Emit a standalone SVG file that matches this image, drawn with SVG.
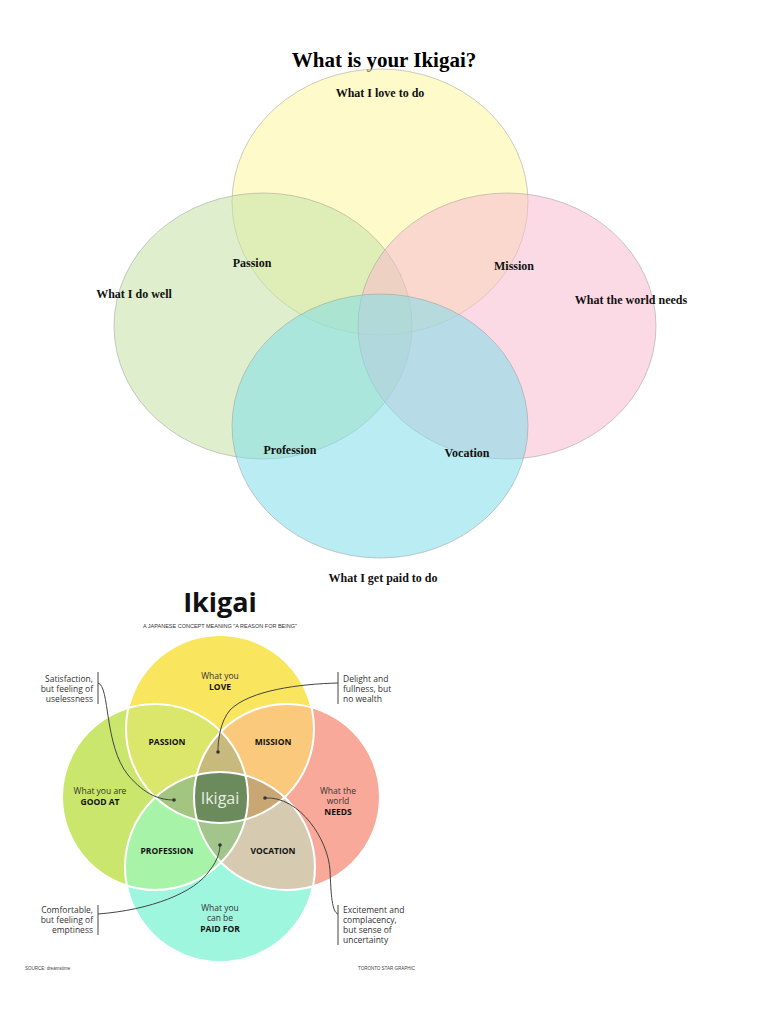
<svg xmlns="http://www.w3.org/2000/svg" width="768" height="1024" viewBox="0 0 768 1024">
<style>
.s{font-family:"Liberation Serif",serif;font-weight:bold;font-size:12px;fill:#111;text-anchor:middle}
.a{font-family:"Open Sans","Liberation Sans",sans-serif;font-size:8.5px;fill:#333;text-anchor:middle}
.b{font-family:"Open Sans","Liberation Sans",sans-serif;font-size:8.5px;font-weight:bold;fill:#111;text-anchor:middle}
.n{font-family:"Open Sans","Liberation Sans",sans-serif;font-size:8.5px;fill:#333}
.e{fill-opacity:0.55;stroke:#999;stroke-opacity:0.5;stroke-width:1}
.w{fill:none;stroke:#fff;stroke-width:2}
.c{fill:none;stroke:#444;stroke-width:1}
</style>
<defs>
<clipPath id="cT"><circle cx="220" cy="729" r="94"/></clipPath>
<clipPath id="cL"><circle cx="155" cy="797" r="93"/></clipPath>
<clipPath id="cR"><circle cx="287" cy="797" r="93"/></clipPath>
<clipPath id="cB"><circle cx="220" cy="867" r="95"/></clipPath>
</defs>
<rect width="768" height="1024" fill="#fff"/>
<text x="384" y="67" style="font-family:'Liberation Serif',serif;font-weight:bold;font-size:21px;text-anchor:middle">What is your Ikigai?</text>
<g id="top-love"><ellipse class="e" cx="380" cy="202" rx="148" ry="133" fill="#fff59d"/></g>
<g id="top-well"><ellipse class="e" cx="263" cy="326" rx="149" ry="133" fill="#c5e1a5"/></g>
<g id="top-needs"><ellipse class="e" cx="507" cy="326" rx="149" ry="133" fill="#f8bbd0"/></g>
<g id="top-paid"><ellipse class="e" cx="380" cy="426" rx="148" ry="132" fill="#80deea"/></g>
<g id="top-labels">
<text class="s" x="380" y="97">What I love to do</text>
<text class="s" x="252" y="267">Passion</text>
<text class="s" x="514" y="270">Mission</text>
<text class="s" x="134" y="298">What I do well</text>
<text class="s" x="631" y="304">What the world needs</text>
<text class="s" x="290" y="454">Profession</text>
<text class="s" x="467" y="457">Vocation</text>
<text class="s" x="383" y="582">What I get paid to do</text>
</g>
<g id="bottom">
<text x="220" y="612" style="font-family:'Open Sans','Liberation Sans',sans-serif;font-weight:bold;font-size:27px;text-anchor:middle;fill:#111">Ikigai</text>
<text x="220" y="628" style="font-family:'Liberation Sans',sans-serif;font-size:5.5px;text-anchor:middle;fill:#333">A JAPANESE CONCEPT MEANING "A REASON FOR BEING"</text>
<circle cx="220" cy="729" r="94" fill="#f9e55e"/>
<circle cx="155" cy="797" r="93" fill="#cbe66c"/>
<circle cx="287" cy="797" r="93" fill="#f9a999"/>
<circle cx="220" cy="867" r="95" fill="#9ff6df"/>
<circle cx="155" cy="797" r="93" fill="#dbe76b" clip-path="url(#cT)"/>
<circle cx="287" cy="797" r="93" fill="#fbc97b" clip-path="url(#cT)"/>
<circle cx="155" cy="797" r="93" fill="#a7f4a8" clip-path="url(#cB)"/>
<circle cx="287" cy="797" r="93" fill="#d6cbb1" clip-path="url(#cB)"/>
<g clip-path="url(#cT)"><circle cx="287" cy="797" r="93" fill="#c8b97c" clip-path="url(#cL)"/></g>
<g clip-path="url(#cB)"><circle cx="287" cy="797" r="93" fill="#a1c58a" clip-path="url(#cL)"/></g>
<g clip-path="url(#cT)"><circle cx="220" cy="867" r="95" fill="#a2c57f" clip-path="url(#cL)"/></g>
<g clip-path="url(#cT)"><circle cx="220" cy="867" r="95" fill="#c9a774" clip-path="url(#cR)"/></g>
<g clip-path="url(#cT)"><g clip-path="url(#cB)"><circle cx="287" cy="797" r="93" fill="#6b8b5d" clip-path="url(#cL)"/></g></g>
<circle class="w" cx="220" cy="729" r="94"/>
<circle class="w" cx="155" cy="797" r="93"/>
<circle class="w" cx="287" cy="797" r="93"/>
<circle class="w" cx="220" cy="867" r="95"/>
<text class="a" x="220" y="679">What you</text><text class="b" x="220" y="690">LOVE</text>
<text class="b" x="167" y="745">PASSION</text><text class="b" x="273" y="745">MISSION</text>
<text class="a" x="100" y="794">What you are</text><text class="b" x="100" y="805">GOOD AT</text>
<text class="a" x="338" y="794">What the</text><text class="a" x="338" y="804">world</text><text class="b" x="338" y="815">NEEDS</text>
<text x="220" y="804" style="font-family:'Open Sans','Liberation Sans',sans-serif;font-size:16px;text-anchor:middle;fill:#e8efe2">Ikigai</text>
<text class="b" x="167" y="854">PROFESSION</text><text class="b" x="273" y="854">VOCATION</text>
<text class="a" x="220" y="911">What you</text><text class="a" x="220" y="921">can be</text><text class="b" x="220" y="932">PAID FOR</text>
<g id="connectors">
<path class="c" d="M98 672V704M338 672V704M98 905V935M338 905V945"/>
<path class="c" d="M98 683C110 686 104 745 128 775C145 795 160 800 174 800"/>
<path class="c" d="M338 683C300 684 250 690 230 710C220 722 218 740 218 752"/>
<path class="c" d="M98 914C150 910 195 893 210 870C218 860 220 850 220 845"/>
<path class="c" d="M265 798C300 796 328 840 330 870C331 895 332 912 338 914"/>
<circle cx="174" cy="800" r="1.8" fill="#333"/><circle cx="218" cy="752" r="1.8" fill="#333"/>
<circle cx="220" cy="845" r="1.8" fill="#333"/><circle cx="265" cy="798" r="1.8" fill="#333"/>
</g>
<text class="n" x="93" y="682" text-anchor="end">Satisfaction,</text>
<text class="n" x="93" y="692" text-anchor="end">but feeling of</text>
<text class="n" x="93" y="702" text-anchor="end">uselessness</text>
<text class="n" x="343" y="682">Delight and</text>
<text class="n" x="343" y="692">fullness, but</text>
<text class="n" x="343" y="702">no wealth</text>
<text class="n" x="93" y="913" text-anchor="end">Comfortable,</text>
<text class="n" x="93" y="923" text-anchor="end">but feeling of</text>
<text class="n" x="93" y="933" text-anchor="end">emptiness</text>
<text class="n" x="343" y="913">Excitement and</text>
<text class="n" x="343" y="923">complacency,</text>
<text class="n" x="343" y="933">but sense of</text>
<text class="n" x="343" y="943">uncertainty</text>
<text x="25" y="970" style="font-family:'Liberation Sans',sans-serif;font-size:4.5px;fill:#444">SOURCE: dreamstime</text>
<text x="415" y="970" style="font-family:'Liberation Sans',sans-serif;font-size:4.5px;fill:#444;text-anchor:end">TORONTO STAR GRAPHIC</text>
</g>
</svg>
